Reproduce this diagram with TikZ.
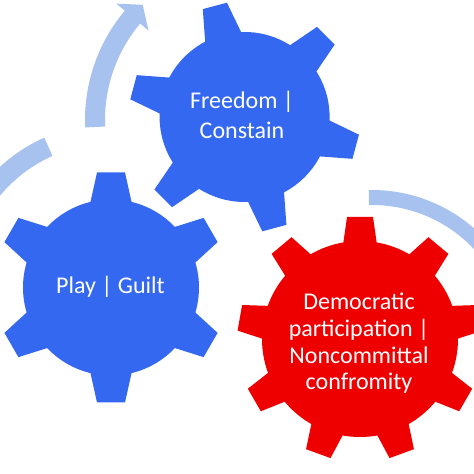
\documentclass[tikz,border=0pt]{standalone}
\usepackage{fontspec}
\setmainfont{Carlito}
\definecolor{gearblue}{RGB}{52,104,240}
\definecolor{gearred}{RGB}{238,0,0}
\definecolor{arrowblue}{RGB}{168,194,240}
\begin{document}
\begin{tikzpicture}[x=1pt,y=1pt,
  lbl/.style={text=white,font=\fontsize{24}{30}\selectfont,align=center,inner sep=0pt},
  lblred/.style={text=white,font=\fontsize{24}{26.7}\selectfont,align=center,inner sep=0pt},
  band/.style={fill=arrowblue}]
\useasboundingbox (0,0) rectangle (474,474);
\clip (0,0) rectangle (474,474);

% circular arrows
\begin{scope}[shift={(255,354)}]
  \fill[band] (182.5:170pt) arc[start angle=182.5,end angle=140,radius=170pt]
    -- (140:181pt) -- (-112.3,115.2) -- (140:139pt) -- (140:150pt)
    arc[start angle=140,end angle=182.5,radius=150pt] -- cycle;
\end{scope}
\begin{scope}[shift={(111,186.5)}]
  \fill[band] (160:164pt) arc[start angle=160,end angle=114,radius=164pt]
    -- (114:144pt) arc[start angle=114,end angle=160,radius=144pt] -- cycle;
\end{scope}
\begin{scope}[shift={(372,129)}]
  \fill[band] (91.2:155pt) arc[start angle=91.2,end angle=30,radius=155pt]
    -- (30:140pt) arc[start angle=30,end angle=91.2,radius=140pt] -- cycle;
\end{scope}

% gear 1 (Play | Guilt)
\begin{scope}[shift={(111,186.5)}]
  \fill[gearblue] (0,0) circle[radius=88pt];
  \foreach \a in {30,90,...,330}
    \fill[gearblue,rotate=\a] (70,-24) -- (115,-14) -- (115,14) -- (70,24) -- cycle;
\end{scope}
% gear 2 (Freedom | Constain)
\begin{scope}[shift={(244.6,357)}]
  \fill[gearblue] (0,0) circle[radius=85pt];
  \foreach \a in {-15,45,105,165,225,285}
    \fill[gearblue,rotate=\a] (65,-22) -- (115,-12.5) -- (115,12.5) -- (65,22) -- cycle;
\end{scope}
% gear 3 (red)
\begin{scope}[shift={(360,135)}]
  \fill[gearred] (0,0) circle[radius=98pt];
  \foreach \a in {90,130,...,410}
    \fill[gearred,rotate=\a] (80,-19) -- (122,-13) -- (122,13) -- (80,19) -- cycle;
\end{scope}

\node[lbl,anchor=base] (play) at (110.5,180) {Play | Guilt};
\node[lbl,anchor=base] (free) at (242,335) {Freedom |\\Constain};
\node[lblred,anchor=base] (demo) at (359,84) {Democratic\\participation |\\Noncommittal\\confromity};
\end{tikzpicture}
\end{document}
